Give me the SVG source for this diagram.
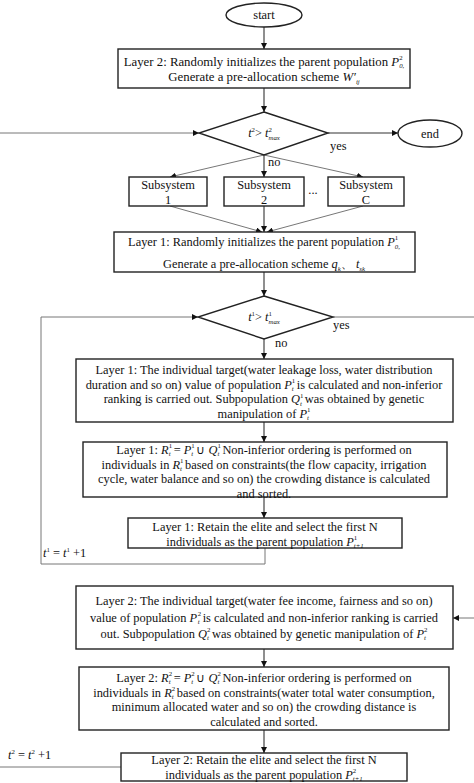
<svg xmlns="http://www.w3.org/2000/svg" width="474" height="783" viewBox="0 0 474 783">
<defs>
<marker id="ah" viewBox="0 0 10 10" refX="10" refY="5" markerWidth="6" markerHeight="6" markerUnits="userSpaceOnUse" orient="auto">
<path d="M0,0 L10,5 L0,10 z" fill="#111"/>
</marker>
</defs>
<style>
text{font-family:"Liberation Serif","Times New Roman",serif;font-size:12.4px;fill:#111}
.c{text-anchor:middle}
.b{font-size:12.8px}
.i{font-style:italic}
.s{font-size:6.8px}
.box{fill:#fff;stroke:#222;stroke-width:1.4}
.ln{fill:none;stroke:#333;stroke-width:1.1}
.gl{fill:none;stroke:#777;stroke-width:1}
</style>
<rect width="474" height="783" fill="#fff"/>

<g id="connectors">
<line class="ln" x1="264" y1="27" x2="264" y2="49" marker-end="url(#ah)"/>
<line class="ln" x1="264" y1="88" x2="264" y2="112" marker-end="url(#ah)"/>
<line class="gl" x1="0" y1="133" x2="199" y2="133" marker-end="url(#ah)"/>
<line class="ln" x1="328" y1="133" x2="398" y2="133" marker-end="url(#ah)"/>
<line class="gl" x1="264" y1="155" x2="170" y2="177" marker-end="url(#ah)"/>
<line class="ln" x1="264" y1="155" x2="264" y2="177" marker-end="url(#ah)"/>
<line class="gl" x1="264" y1="155" x2="363" y2="177" marker-end="url(#ah)"/>
<line class="gl" x1="170" y1="206" x2="262" y2="232" marker-end="url(#ah)"/>
<line class="ln" x1="264" y1="206" x2="264" y2="232" marker-end="url(#ah)"/>
<line class="gl" x1="363" y1="206" x2="267" y2="232" marker-end="url(#ah)"/>
<line class="ln" x1="264" y1="272" x2="264" y2="296" marker-end="url(#ah)"/>
<line class="gl" x1="333" y1="317" x2="474" y2="317"/>
<line class="ln" x1="264" y1="339" x2="264" y2="359" marker-end="url(#ah)"/>
<line class="ln" x1="264" y1="422" x2="264" y2="442" marker-end="url(#ah)"/>
<line class="ln" x1="264" y1="497" x2="264" y2="518" marker-end="url(#ah)"/>
<polyline class="gl" points="265,548 265,564 41,564 41,317 198,317" marker-end="url(#ah)"/>
<line class="gl" x1="474" y1="618" x2="453" y2="618" marker-end="url(#ah)"/>
<line class="ln" x1="264" y1="649" x2="264" y2="667" marker-end="url(#ah)"/>
<line class="ln" x1="264" y1="730" x2="264" y2="753" marker-end="url(#ah)"/>
<line class="gl" x1="121" y1="767" x2="0" y2="767"/>
</g>

<g id="start">
<ellipse class="box" cx="264" cy="15" rx="38" ry="12"/>
<text class="c" x="264" y="19">start</text>
</g>

<g id="init2">
<rect class="box" x="118" y="49" width="292" height="39"/>
<text class="c b" x="264" y="66">Layer 2: Randomly initializes the parent population <tspan class="i">P</tspan><tspan class="s" dy="-5.8">2</tspan><tspan class="s i" dx="-3.4" dy="7.9">0,</tspan></text>
<text class="c b" x="264" y="81">Generate a pre-allocation scheme <tspan class="i">W′</tspan><tspan class="s i" dy="3">ij</tspan></text>
</g>

<g id="cond2">
<polygon class="box" points="264,112 328,133 264,155 199,133"/>
<text class="c" x="264" y="137"><tspan class="i">t</tspan><tspan class="s" dy="-5.5">2</tspan><tspan dy="5.5">&gt; </tspan><tspan class="i">t</tspan><tspan class="s" dy="-5.5">2</tspan><tspan class="s i" dx="-3.4" dy="8.3">max</tspan></text>
<text x="330" y="150">yes</text>
<text x="268" y="166">no</text>
</g>

<g id="end">
<ellipse class="box" cx="430" cy="133.5" rx="32" ry="13.5"/>
<text class="c" x="430" y="138">end</text>
</g>

<g id="sub1">
<rect class="box" x="129" y="177" width="78" height="29"/>
<text class="c" x="168" y="189">Subsystem</text>
<text class="c" x="168" y="204">1</text>
</g>
<g id="sub2">
<rect class="box" x="224" y="177" width="80" height="29"/>
<text class="c" x="264" y="189">Subsystem</text>
<text class="c" x="264" y="204">2</text>
</g>
<g id="dots">
<text class="c" x="313" y="194">...</text>
</g>
<g id="subC">
<rect class="box" x="328" y="177" width="76" height="29"/>
<text class="c" x="366" y="189">Subsystem</text>
<text class="c" x="366" y="204">C</text>
</g>

<g id="init1">
<rect class="box" x="114" y="232" width="301" height="40"/>
<text class="c" x="264" y="246">Layer 1: Randomly initializes the parent population <tspan class="i">P</tspan><tspan class="s" dy="-5.8">1</tspan><tspan class="s i" dx="-3.4" dy="8.3">0,</tspan></text>
<text class="c" x="264" y="268">Generate a pre-allocation scheme <tspan class="i">q</tspan><tspan class="s i" dy="3">k</tspan><tspan dy="-3">、   </tspan><tspan class="i">t</tspan><tspan class="s i" dy="3">sk</tspan></text>
</g>

<g id="cond1">
<polygon class="box" points="264,296 333,317 264,339 198,317"/>
<text class="c" x="264" y="321"><tspan class="i">t</tspan><tspan class="s" dy="-5.5">1</tspan><tspan dy="5.5">&gt; </tspan><tspan class="i">t</tspan><tspan class="s" dy="-5.5">1</tspan><tspan class="s i" dx="-3.4" dy="8.3">max</tspan></text>
<text x="333" y="329">yes</text>
<text x="275" y="347">no</text>
</g>

<g id="l1a">
<rect class="box" x="76" y="359" width="377" height="63"/>
<text class="c" x="264" y="373.8">Layer 1: The individual target(water leakage loss, water distribution</text>
<text class="c" x="264" y="388.6">duration and so on) value of population <tspan class="i">P</tspan><tspan class="s" dy="-5.8">1</tspan><tspan class="s i" dx="-3.4" dy="7.9">t</tspan><tspan dy="-2.1"> is calculated and non-inferior</tspan></text>
<text class="c" x="264" y="403.4">ranking is carried out. Subpopulation <tspan class="i">Q</tspan><tspan class="s" dy="-5.8">1</tspan><tspan class="s i" dx="-3.4" dy="7.9">t</tspan><tspan dy="-2.1"> was obtained by genetic</tspan></text>
<text class="c" x="264" y="418.2">manipulation of <tspan class="i">P</tspan><tspan class="s" dy="-5.8">1</tspan><tspan class="s i" dx="-3.4" dy="7.9">t</tspan></text>
</g>

<g id="l1b">
<rect class="box" x="83" y="442" width="364" height="55"/>
<text class="c" x="264" y="453.8">Layer 1: <tspan class="i">R</tspan><tspan class="s" dy="-5.8">1</tspan><tspan class="s i" dx="-3.4" dy="7.9">t</tspan><tspan dy="-2.1"> = </tspan><tspan class="i">P</tspan><tspan class="s" dy="-5.8">1</tspan><tspan class="s i" dx="-3.4" dy="7.9">t</tspan><tspan dy="-2.1"> ∪ </tspan><tspan class="i">Q</tspan><tspan class="s" dy="-5.8">1</tspan><tspan class="s i" dx="-3.4" dy="7.9">t</tspan><tspan dy="-2.1"> Non-inferior ordering is performed on</tspan></text>
<text class="c" x="264" y="468.6">individuals in <tspan class="i">R</tspan><tspan class="s" dy="-5.8">1</tspan><tspan class="s i" dx="-3.4" dy="7.9">t</tspan><tspan dy="-2.1"> based on constraints(the flow capacity, irrigation</tspan></text>
<text class="c" x="264" y="483.4">cycle, water balance and so on) the crowding distance is calculated</text>
<text class="c" x="264" y="498.2">and sorted.</text>
</g>

<g id="l1c">
<rect class="box" x="128" y="518" width="274" height="30"/>
<text class="c" x="265" y="531.4">Layer 1: Retain the elite and select the first N</text>
<text class="c" x="265" y="546.2">individuals as the parent population <tspan class="i">P</tspan><tspan class="s" dy="-5.8">1</tspan><tspan class="s i" dx="-3.4" dy="7.9">t+1</tspan></text>
</g>
<g id="inc1">
<text x="43" y="557"><tspan class="i">t</tspan><tspan class="s" dy="-5">1</tspan><tspan dy="5"> = </tspan><tspan class="i">t</tspan><tspan class="s" dy="-5">1</tspan><tspan dy="5"> +1</tspan></text>
</g>

<g id="l2a">
<rect class="box" x="76" y="586" width="377" height="63"/>
<text class="c" x="264" y="604.5">Layer 2: The individual target(water fee income, fairness and so on)</text>
<text class="c" x="264" y="622">value of population <tspan class="i">P</tspan><tspan class="s" dx="0.6" dy="-6">2</tspan><tspan class="s i" dx="-3.4" dy="8">t</tspan><tspan dy="-2"> is calculated and non-inferior ranking is carried</tspan></text>
<text class="c" x="264" y="637.5">out. Subpopulation <tspan class="i">Q</tspan><tspan class="s" dy="-5.8">2</tspan><tspan class="s i" dx="-3.4" dy="7.9">t</tspan><tspan dy="-2.1"> was obtained by genetic manipulation of </tspan><tspan class="i">P</tspan><tspan class="s" dy="-5.8">2</tspan><tspan class="s i" dx="-3.4" dy="7.9">t</tspan></text>
</g>

<g id="l2b">
<rect class="box" x="79" y="667" width="370" height="63"/>
<text class="c" x="264" y="681.8">Layer 2: <tspan class="i">R</tspan><tspan class="s" dy="-5.8">2</tspan><tspan class="s i" dx="-3.4" dy="7.9">t</tspan><tspan dy="-2.1"> = </tspan><tspan class="i">P</tspan><tspan class="s" dy="-5.8">2</tspan><tspan class="s i" dx="-3.4" dy="7.9">t</tspan><tspan dy="-2.1"> ∪ </tspan><tspan class="i">Q</tspan><tspan class="s" dy="-5.8">2</tspan><tspan class="s i" dx="-3.4" dy="7.9">t</tspan><tspan dy="-2.1"> Non-inferior ordering is performed on</tspan></text>
<text class="c" x="264" y="696.6">individuals in <tspan class="i">R</tspan><tspan class="s" dy="-5.8">2</tspan><tspan class="s i" dx="-3.4" dy="7.9">t</tspan><tspan dy="-2.1"> based on constraints(water total water consumption,</tspan></text>
<text class="c" x="264" y="711.4">minimum allocated water and so on) the crowding distance is</text>
<text class="c" x="264" y="726.2">calculated and sorted.</text>
</g>

<g id="l2c">
<rect class="box" x="121" y="753" width="286" height="28"/>
<text class="c" x="264" y="764.4">Layer 2: Retain the elite and select the first N</text>
<text class="c" x="264" y="779.2">individuals as the parent population <tspan class="i">P</tspan><tspan class="s" dy="-5.8">2</tspan><tspan class="s i" dx="-3.4" dy="7.9">t+1</tspan></text>
</g>
<g id="inc2">
<text x="8" y="759"><tspan class="i">t</tspan><tspan class="s" dy="-5">2</tspan><tspan dy="5"> = </tspan><tspan class="i">t</tspan><tspan class="s" dy="-5">2</tspan><tspan dy="5"> +1</tspan></text>
</g>
</svg>
